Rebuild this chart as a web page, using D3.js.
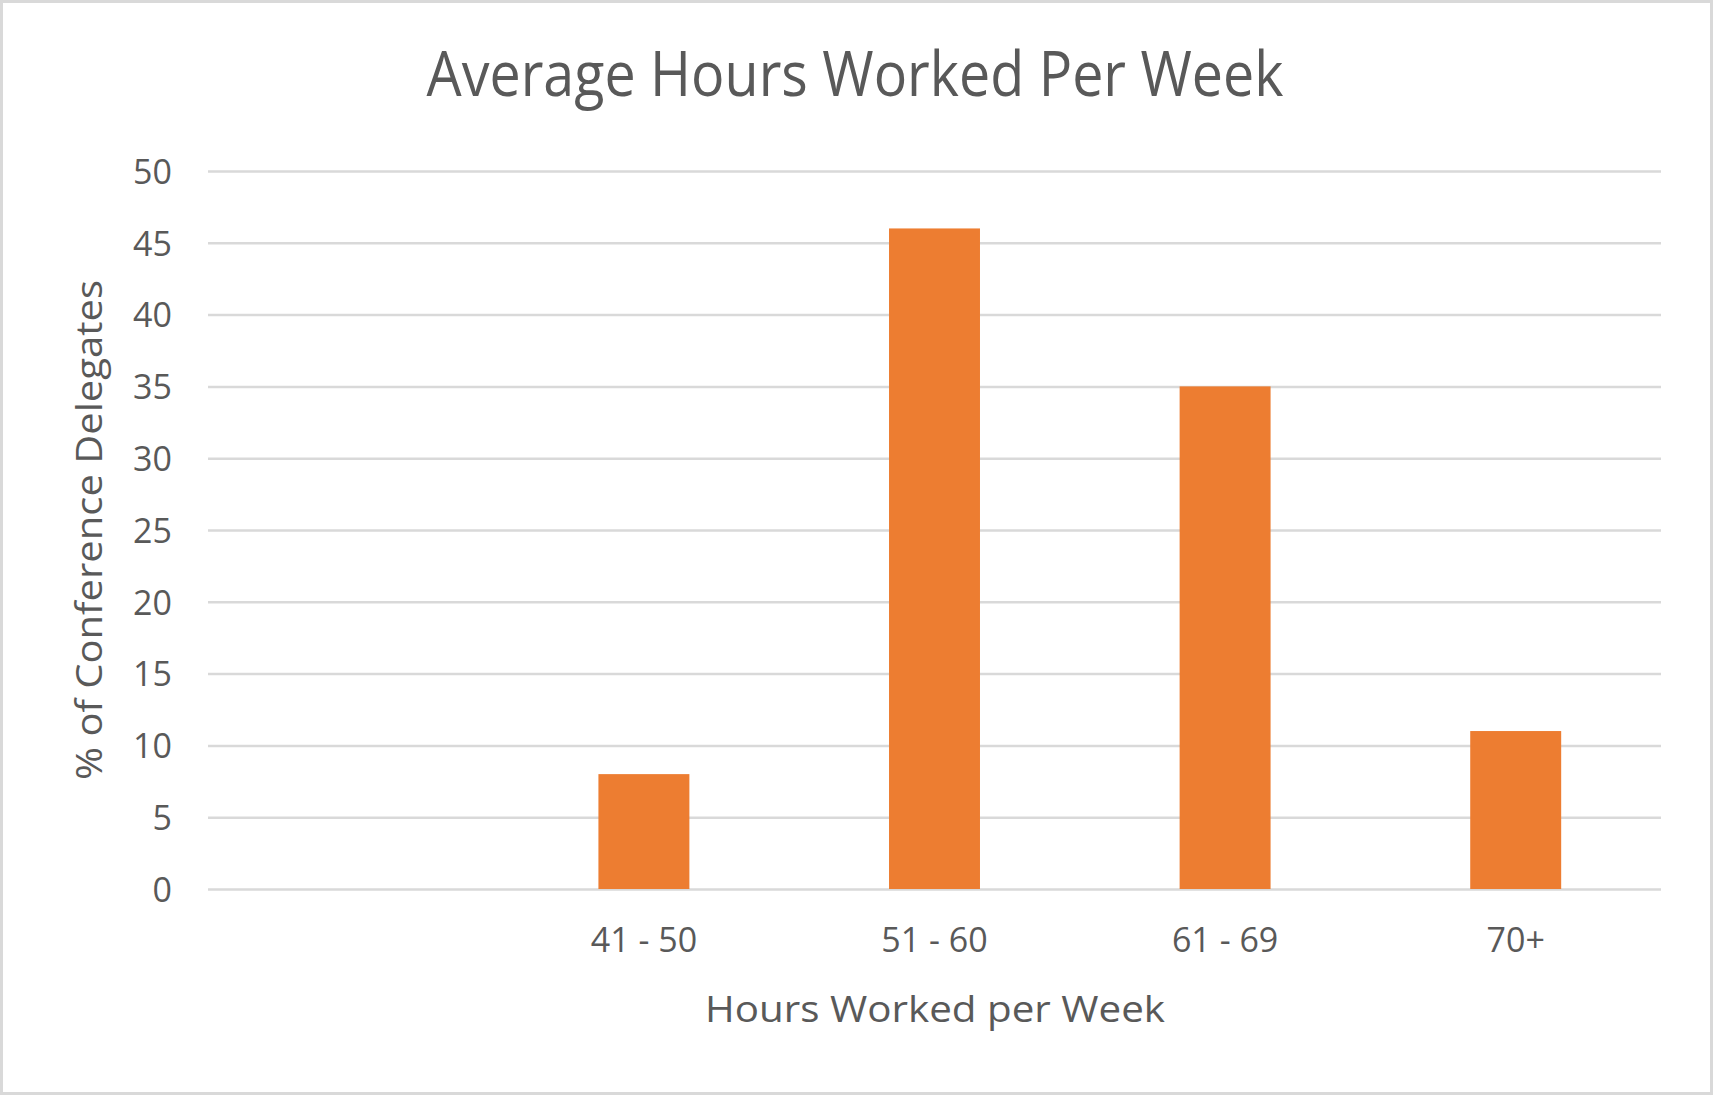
<!DOCTYPE html>
<html><head><meta charset="utf-8">
<script src="https://cdn.jsdelivr.net/npm/d3@7"></script>
<style>body{margin:0;background:#fff}svg{display:block}text{font-family:"Open Sans",sans-serif;fill:#595959}</style>
</head><body>
<svg id="c" width="1713" height="1095"></svg>
<script>
const categories = ["", "41 - 50", "51 - 60", "61 - 69", "70+"];
const values = [null, 8, 46, 35, 11];
const yTicks = [0, 5, 10, 15, 20, 25, 30, 35, 40, 45, 50];
const title = "Average Hours Worked Per Week";
const xTitle = "Hours Worked per Week";
const yTitle = "% of Conference Delegates";

const svg = d3.select("#c");
const W = 1713, H = 1095;
const m = {left: 208, right: 1661, top: 171, bottom: 889};

svg.append("rect").attr("x", 1.5).attr("y", 1.5).attr("width", W - 3).attr("height", H - 3)
  .attr("fill", "#fff").attr("stroke", "#d9d9d9").attr("stroke-width", 3);

const x = d3.scaleBand().domain(categories.map((d, i) => i)).range([m.left, m.right]).paddingInner(0.687).paddingOuter(0.3435);
const y = d3.scaleLinear().domain([0, 50]).range([m.bottom, m.top]);

// gridlines
const yAxis = d3.axisLeft(y).tickValues(yTicks).tickSize(-(m.right - m.left)).tickPadding(36);
const gy = svg.append("g").attr("transform", `translate(${m.left},0)`).call(yAxis);
gy.select(".domain").remove();
gy.selectAll(".tick line").attr("stroke", "#d9d9d9").attr("stroke-width", 2.5);
gy.selectAll(".tick text").style("font-size", "34px").attr("fill", "#595959").attr("dy", "0.36em");

// bars
svg.append("g").selectAll("rect").data(values.map((v, i) => ({v, i})).filter(d => d.v != null))
  .join("rect")
  .attr("x", d => x(d.i)).attr("width", x.bandwidth())
  .attr("y", d => y(d.v)).attr("height", d => y(0) - y(d.v))
  .attr("fill", "#ED7D31");

// x axis labels
const xAxis = d3.axisBottom(x).tickFormat(i => categories[i]).tickSize(0).tickPadding(39);
const gx = svg.append("g").attr("transform", `translate(0,${m.bottom})`).call(xAxis);
gx.select(".domain").remove();
gx.selectAll(".tick text").style("font-size", "34px").attr("fill", "#595959");

// titles
svg.append("text").attr("x", 855).attr("y", 96).attr("text-anchor", "middle")
  .attr("textLength", 857).attr("lengthAdjust", "spacingAndGlyphs")
  .style("font-size", "62px").text(title);
svg.append("text").attr("x", 935).attr("y", 1022).attr("text-anchor", "middle")
  .attr("textLength", 460).attr("lengthAdjust", "spacingAndGlyphs")
  .style("font-size", "37px").text(xTitle);
svg.append("text").attr("transform", "translate(102,530) rotate(-90)").attr("text-anchor", "middle")
  .attr("textLength", 500).attr("lengthAdjust", "spacingAndGlyphs")
  .style("font-size", "37px").text(yTitle);
</script>
</body></html>
